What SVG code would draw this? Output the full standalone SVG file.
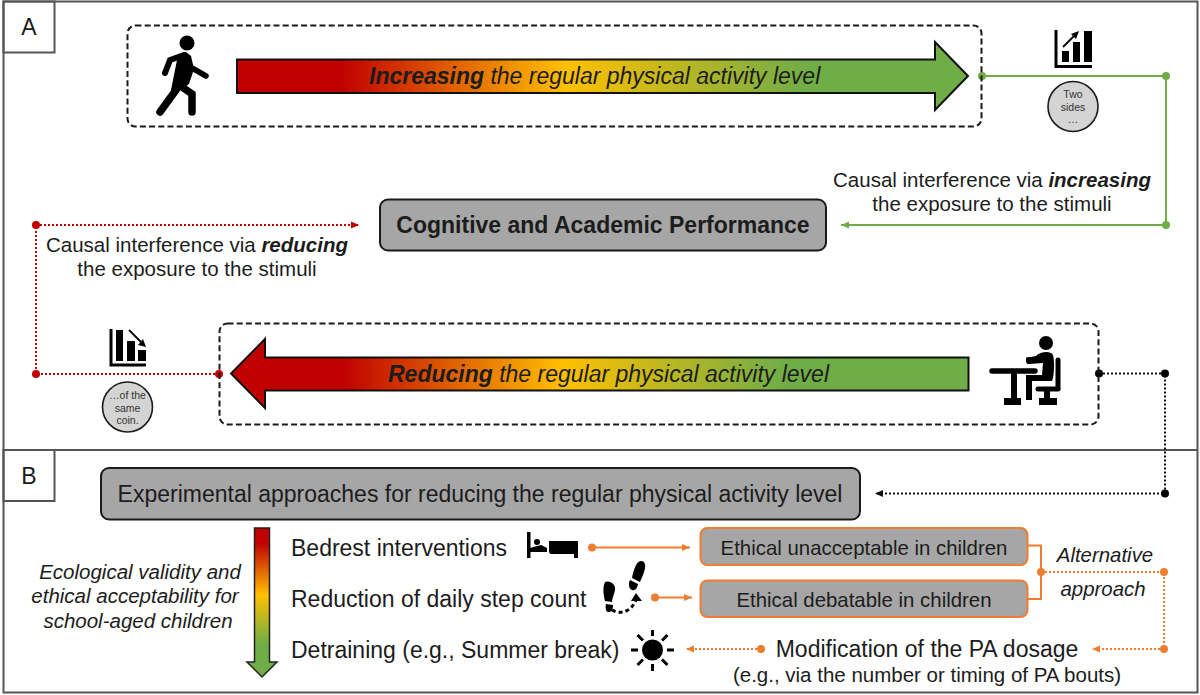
<svg xmlns="http://www.w3.org/2000/svg" width="1200" height="695" viewBox="0 0 1200 695">
<style>
text{font-family:"Liberation Sans",Arial,sans-serif;fill:#1c1c1c}
.m{text-anchor:middle}
.frame{fill:none;stroke:#555;stroke-width:2}
.dash{fill:none;stroke:#1a1a1a;stroke-width:2;stroke-dasharray:6 3.2}
.gbox{fill:#a6a6a6;stroke:#1a1a1a;stroke-width:2}
.obox{fill:#a6a6a6;stroke:#ed7d31;stroke-width:2}
.coin{fill:#d4d4d4;stroke:#1a1a1a;stroke-width:1.600}
.ln{fill:none;stroke-width:2}
.dot{stroke-dasharray:2 2}
.gr{stroke:#70ad47}.re{stroke:#c00000}.bk{stroke:#111}.or{stroke:#ed7d31}
.arrow{stroke:#111;stroke-width:2}
.ic{fill:#000}
.s{fill:none;stroke:#000;stroke-linecap:round}
.c{font-size:20.500px}
.t{font-size:23px}
.o{font-size:20.400px}
.k{font-size:10.500px;fill:#333}
</style>
<defs>
<linearGradient id="gr1" gradientUnits="userSpaceOnUse" x1="237" y1="0" x2="968" y2="0">
<stop offset="0.14" stop-color="#c00000"/><stop offset="0.45" stop-color="#ffc000"/><stop offset="0.78" stop-color="#70ad47"/></linearGradient>
<linearGradient id="gr2" gradientUnits="userSpaceOnUse" x1="231" y1="0" x2="969" y2="0">
<stop offset="0.15" stop-color="#c00000"/><stop offset="0.45" stop-color="#ffc000"/><stop offset="0.75" stop-color="#70ad47"/></linearGradient>
<linearGradient id="gr3" gradientUnits="userSpaceOnUse" x1="0" y1="528" x2="0" y2="677">
<stop offset="0.1" stop-color="#c00000"/><stop offset="0.45" stop-color="#ffc000"/><stop offset="0.78" stop-color="#70ad47"/></linearGradient>
<marker id="ah" markerUnits="userSpaceOnUse" markerWidth="10" markerHeight="10" refX="8" refY="5" orient="auto"><path d="M0 1.500L8 5L0 8.500z" fill="context-stroke"/></marker>
</defs>

<g id="frame">
<rect class="frame" x="3.500" y="1.500" width="1194" height="691"/>
<path class="frame" d="M3.500 450H1197"/>
</g>

<g id="connectors">
<path class="ln gr" d="M982 76H1166V225H841" marker-end="url(#ah)"/>
<g fill="#70ad47"><circle cx="982" cy="76" r="4"/><circle cx="1166" cy="76" r="4"/><circle cx="1166" cy="225" r="4"/></g>
<path class="ln re dot" d="M219 374H36V225H359" marker-end="url(#ah)"/>
<g fill="#c00000"><circle cx="219" cy="374" r="4"/><circle cx="36" cy="374" r="4"/><circle cx="36" cy="225" r="4"/></g>
<path class="ln bk dot" d="M1099 373.500H1165V493.500H875" marker-end="url(#ah)"/>
<g fill="#000"><circle cx="1099" cy="373.500" r="4"/><circle cx="1165" cy="373.500" r="4"/><circle cx="1165" cy="493.500" r="4"/></g>
<path class="ln or" d="M592 547.500H690" marker-end="url(#ah)"/>
<path class="ln or" d="M655 597.500H692" marker-end="url(#ah)"/>
<path class="ln or" d="M1028 545.500H1041V599H1028"/>
<path class="ln or dot" d="M1041 572H1164V649H1092" marker-end="url(#ah)"/>
<path class="ln or dot" d="M761 649H686" marker-end="url(#ah)"/>
<g fill="#ed7d31"><circle cx="592" cy="547.500" r="4"/><circle cx="655" cy="597.500" r="4"/><circle cx="1041" cy="572" r="4"/><circle cx="1164" cy="572" r="4"/><circle cx="1164" cy="649" r="4"/><circle cx="761" cy="649" r="4"/></g>
</g>

<g id="label-A"><rect class="frame" x="3.500" y="1.500" width="51" height="51"/><text class="m t" x="29" y="35">A</text></g>
<g id="label-B"><rect class="frame" x="3.500" y="450" width="51" height="51"/><text class="m t" x="29" y="484">B</text></g>

<g id="increase">
<rect class="dash" x="127.500" y="25.500" width="854" height="101" rx="8"/>
<path class="arrow" fill="url(#gr1)" d="M237 59.500H935V42L968 76L935 110V93H237z"/>
<text class="t" x="369" y="84" font-style="italic"><tspan font-weight="bold">Increasing</tspan> the regular physical activity level</text>
<g id="walker">
<circle class="ic" cx="187" cy="43" r="7.500"/>
<path class="s" stroke-width="6" d="M165 73L170 60L184 55"/>
<path class="ic" d="M178 55L186 52L191 56L194 69L189 84L178 92L171 90z"/>
<path class="s" stroke-width="5.500" d="M192 68L206 76"/>
<path class="s" stroke-width="7.500" d="M176 90L160 112"/>
<path class="s" stroke-width="7.500" d="M182 87L192 94V112"/>
</g>
</g>

<g id="chart-up">
<path class="s" style="stroke-linecap:butt" stroke-width="3" d="M1056 30V66.500H1092"/>
<rect class="ic" x="1062" y="51" width="7" height="11"/><rect class="ic" x="1073" y="42" width="7" height="20"/><rect class="ic" x="1084" y="31" width="8" height="31"/>
<path d="M1063 47L1076 34" stroke="#000" stroke-width="1.800"/><path class="ic" d="M1079 31L1076 39L1071 34z"/>
</g>
<g id="coin-top"><circle class="coin" cx="1073" cy="106.500" r="25"/>
<text class="m k" x="1073" y="98">Two</text><text class="m k" x="1073" y="111">sides</text><text class="m k" x="1073" y="123">…</text></g>

<g id="cap">
<rect class="gbox" x="380" y="199.500" width="446" height="51" rx="8"/>
<text class="m t" x="603" y="233" font-weight="bold">Cognitive and Academic Performance</text>
</g>
<g id="label-inc"><text class="m c" x="992" y="187">Causal interference via <tspan font-weight="bold" font-style="italic">increasing</tspan></text><text class="m c" x="992" y="211">the exposure to the stimuli</text></g>
<g id="label-red"><text class="m c" x="197" y="252">Causal interference via <tspan font-weight="bold" font-style="italic">reducing</tspan></text><text class="m c" x="197" y="276">the exposure to the stimuli</text></g>

<g id="reduce">
<rect class="dash" x="219.500" y="323.500" width="879" height="101" rx="8"/>
<path class="arrow" fill="url(#gr2)" d="M968.500 357.500H265V339L231 373.500L265 408V390.500H968.500z"/>
<text class="t" x="388" y="382" font-style="italic"><tspan font-weight="bold">Reducing</tspan> the regular physical activity level</text>
<g id="sitter">
<circle class="ic" cx="1046" cy="343" r="7"/>
<path class="ic" d="M1026 359C1026 356 1028 358 1036 356C1040 352 1050 350 1053 355C1055 362 1054 378 1052 381H1032V400H1026V375H1042L1043 363L1029 364C1026 364 1026 362 1026 359z"/>
<path class="s" stroke-width="5.500" d="M992 371H1035"/>
<path class="ic" d="M1011 372H1017V398H1021V405H1004V398H1011z"/>
<path class="s" stroke-width="5" d="M1058 360V388"/>
<path class="s" stroke-width="5" d="M1038 389H1058"/>
<path class="ic" d="M1044 391H1050V398H1057V405H1039V398H1044z"/>
</g>
</g>

<g id="chart-down">
<path class="s" style="stroke-linecap:butt" stroke-width="3" d="M111 329V365H146"/>
<rect class="ic" x="116" y="330" width="7" height="31"/><rect class="ic" x="127" y="341" width="8" height="20"/><rect class="ic" x="138" y="350" width="8" height="11"/>
<path d="M129 330L142 343" stroke="#000" stroke-width="1.800"/><path class="ic" d="M146 347L138 345L143 339z"/>
</g>
<g id="coin-bottom"><circle class="coin" cx="127.500" cy="407" r="25"/>
<text class="m k" x="127.500" y="399">…of the</text><text class="m k" x="127.500" y="412">same</text><text class="m k" x="127.500" y="424">coin.</text></g>

<g id="experimental">
<rect class="gbox" x="101" y="468" width="759" height="51.500" rx="8"/>
<text class="m t" x="480" y="502">Experimental approaches for reducing the regular physical activity level</text>
</g>

<g id="validity">
<path stroke="#222" stroke-width="1.500" fill="url(#gr3)" d="M254.500 528H269.500V662H277L262 677L247 662H254.500z"/>
<g font-style="italic"><text class="m c" x="140" y="579">Ecological validity and</text><text class="m c" x="135" y="603">ethical acceptability for</text><text class="m c" x="138" y="628">school-aged children</text></g>
</g>

<g id="row1"><text class="t" x="291" y="556">Bedrest interventions</text>
<g id="bed"><rect class="ic" x="527" y="532" width="3.500" height="26"/><circle class="ic" cx="537" cy="542" r="3"/><path class="ic" d="M530 548L541 545L547 548V552H530z"/><path class="ic" d="M549 541H578V558H574V554H552C549 554 549 552 549 550z"/></g></g>
<g id="row2"><text class="t" x="291" y="607">Reduction of daily step count</text>
<g id="steps">
<path class="ic" d="M605 582C610 580 616 584 615 590C614 595 612 598 612 602L605 601C604 597 602 588 605 582z"/><path class="ic" d="M606 604L613 605C613 611 611 612 608 612C606 612 605 608 606 604z"/>
<path class="ic" d="M641 561C646 561 646 567 644 572C643 576 641 579 640 582L632 578C633 572 636 561 641 561z"/><path class="ic" d="M630 580L638 584C637 589 635 591 632 590C629 589 628 584 630 580z"/>
<path fill="none" stroke="#000" stroke-width="3" stroke-dasharray="4 3" d="M612 610C618 614 630 614 636 600"/><path class="ic" d="M636 593L642 601H631z"/>
</g></g>
<g id="row3"><text class="t" x="291" y="658">Detraining (e.g., Summer break)</text>
<g id="sun"><circle class="ic" cx="652.500" cy="650" r="10.500"/><path stroke="#000" stroke-width="3" fill="none" d="M652.500 630V636M652.500 664V671M631 650H638M667 650H674M637.500 635L643 640.500M662 659.500L667.500 665M637.500 665L643 659.500M662 640.500L667.500 635"/></g></g>

<g id="unacceptable"><rect class="obox" x="700.500" y="528" width="327" height="37" rx="7"/><text class="m o" x="864" y="555">Ethical unacceptable in children</text></g>
<g id="debatable"><rect class="obox" x="700.500" y="580.500" width="327" height="36.500" rx="7"/><text class="m o" x="864" y="607">Ethical debatable in children</text></g>
<g id="alternative"><text class="m o" x="1105" y="562" font-style="italic">Alternative</text><text class="m o" x="1103" y="596" font-style="italic">approach</text></g>
<g id="modification"><text class="m t" x="927" y="657">Modification of the PA dosage</text><text class="m c" x="927" y="682">(e.g., via the number or timing of PA bouts)</text></g>
</svg>
